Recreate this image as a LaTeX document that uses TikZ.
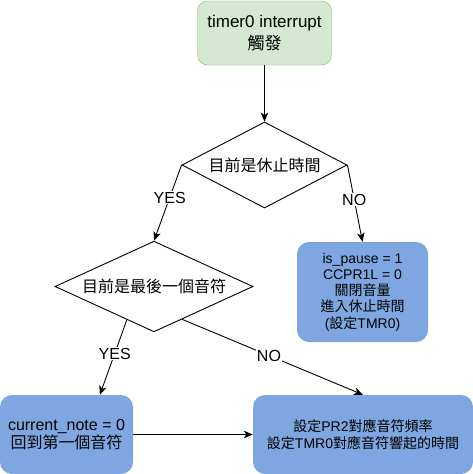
\documentclass[tikz,border=0pt]{standalone}
\usepackage{fontspec}
\setmainfont{Liberation Sans}
\newfontfamily\cjkfont{Noto Sans CJK TC}
\newcommand\zh[1]{{\cjkfont #1}}
\usetikzlibrary{shapes.geometric,arrows.meta,calc}
\definecolor{gfill}{HTML}{D5E8D4}
\definecolor{gline}{HTML}{82B366}
\definecolor{bfill}{HTML}{7EA6E0}
\tikzset{
  startbox/.style={draw=gline, fill=gfill, rounded corners=10pt, minimum width=134pt, minimum height=64pt, align=center, inner sep=0pt, font=\fontsize{17}{22}\selectfont},
  bluebox/.style={fill=bfill, rounded corners=12pt, align=center, inner sep=0pt},
  decision/.style={draw=black, line width=0.9pt, diamond, aspect=1.9, inner sep=0pt, font=\fontsize{16}{19}\selectfont},
  flow/.style={draw=black, line width=0.9pt, -{Stealth[length=9pt,width=7.5pt,inset=2.5pt]}},
  lbl/.style={fill=white, inner sep=1pt, font=\fontsize{16}{19}\selectfont}
}
\begin{document}
\begin{tikzpicture}[x=1pt,y=-1pt]
\useasboundingbox (0,0) rectangle (473,474);
\node[startbox] (start) at (264.5,33) {timer0 interrupt\\\zh{觸發}};
\node[decision, minimum width=165pt, minimum height=86pt] (d1) at (264.5,165) {\zh{目前是休止時間}};
\node[decision, minimum width=198pt, minimum height=87pt] (d2) at (154,286.5) {\zh{目前是最後一個音符}};
\node[bluebox, minimum width=131pt, minimum height=100pt, font=\fontsize{14}{16.3}\selectfont] (pause) at (362.5,292) {is\_pause = 1\\CCPR1L = 0\\\zh{關閉音量}\\\zh{進入休止時間}\\(\zh{設定}TMR0)};
\node[bluebox, minimum width=133pt, minimum height=79pt, font=\fontsize{16}{18.5}\selectfont] (reset) at (66.5,434.5) {current\_note = 0\\\zh{回到第一個音符}};
\node[bluebox, minimum width=220pt, minimum height=79pt, font=\fontsize{14}{16.5}\selectfont] (play) at (363,434.5) {\zh{設定}PR2\zh{對應音符頻率}\\\zh{設定}TMR0\zh{對應音符響起的時間}};
\coordinate (d2yes) at ($(d2.west)!0.727!(d2.south)$);
\coordinate (d2no) at ($(d2.south)!0.283!(d2.east)$);
\coordinate (resettop) at ($(reset.north west)!0.75!(reset.north east)$);
\draw[flow] (start.south) -- (d1.north);
\draw[flow] (d1.west) -- node[lbl, pos=0.43] (yes1) {YES} (d2.north);
\draw[flow] (d1.east) -- node[lbl, pos=0.45] (no1) {NO} (pause.north);
\draw[flow] (d2yes) -- node[lbl, pos=0.45] (yes2) {YES} (resettop);
\draw[flow] (d2no) -- node[lbl, pos=0.48] (no2) {NO} (play.north);
\draw[flow] (reset.east) -- (play.west);
\end{tikzpicture}
\end{document}
